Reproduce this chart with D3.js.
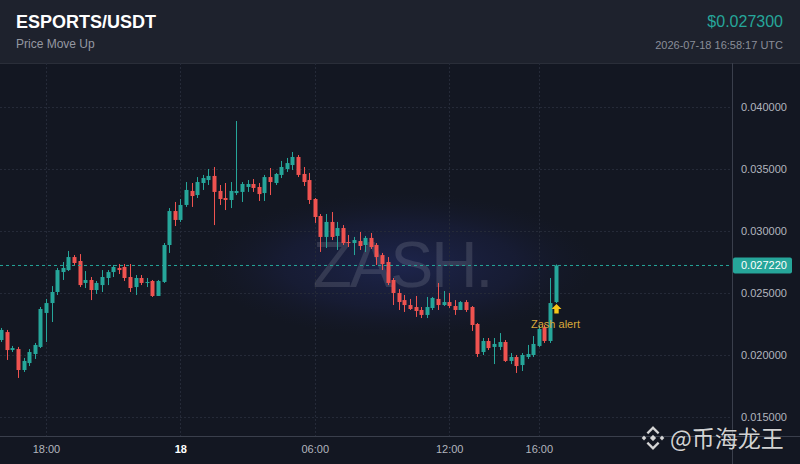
<!DOCTYPE html>
<html><head><meta charset="utf-8">
<script src="https://cdn.jsdelivr.net/npm/d3@7/dist/d3.min.js"></script>
<style>
html,body{margin:0;padding:0;background:#131722;}
svg{display:block;font-family:"Liberation Sans",Arial,sans-serif;}
</style></head>
<body>
<svg id="chart" width="800" height="464"></svg>
<script>
// ---- data (15-minute candles, 2026-07-17 16:00 UTC .. 2026-07-18 16:45 UTC) ----
const startTime = "2026-07-17T16:00:00Z";
const intervalMinutes = 15;
const open = [0.02121,0.02185,0.02040,0.02048,0.01879,0.01935,0.02008,0.02065,0.02339,0.02419,
0.02508,0.02669,0.02685,0.02790,0.02758,0.02581,0.02605,0.02524,0.02564,0.02621,
0.02669,0.02702,0.02710,0.02629,0.02548,0.02621,0.02581,0.02597,0.02476,0.02589,
0.02887,0.03161,0.03089,0.03210,0.03323,0.03290,0.03387,0.03411,0.03444,0.03323,
0.03266,0.03250,0.03306,0.03315,0.03355,0.03379,0.03355,0.03306,0.03435,0.03387,
0.03452,0.03500,0.03532,0.03597,0.03460,0.03411,0.03258,0.03121,0.02952,0.03073,
0.02960,0.03024,0.02911,0.02903,0.02919,0.02887,0.02944,0.02887,0.02806,0.02750,
0.02605,0.02500,0.02443,0.02403,0.02387,0.02363,0.02323,0.02379,0.02452,0.02403,
0.02427,0.02395,0.02363,0.02427,0.02387,0.02250,0.02024,0.02113,0.02065,0.02065,
0.02105,0.01952,0.01984,0.01919,0.01984,0.02000,0.02073,0.02218,0.02113,0.02427];
const high = [0.02218,0.02202,0.02073,0.02065,0.01976,0.02048,0.02097,0.02387,0.02452,0.02556,
0.02702,0.02750,0.02839,0.02806,0.02814,0.02677,0.02629,0.02597,0.02685,0.02685,
0.02726,0.02734,0.02734,0.02734,0.02645,0.02645,0.02621,0.02605,0.02605,0.02903,
0.03185,0.03234,0.03258,0.03395,0.03387,0.03435,0.03452,0.03500,0.03516,0.03371,
0.03387,0.03395,0.03887,0.03395,0.03411,0.03419,0.03387,0.03452,0.03508,0.03468,
0.03565,0.03589,0.03637,0.03613,0.03516,0.03468,0.03266,0.03137,0.03137,0.03153,
0.03073,0.03048,0.02968,0.02952,0.02992,0.02960,0.02984,0.02903,0.02823,0.02790,
0.02621,0.02532,0.02484,0.02452,0.02476,0.02387,0.02468,0.02468,0.02581,0.02516,
0.02500,0.02443,0.02435,0.02443,0.02395,0.02258,0.02137,0.02137,0.02137,0.02177,
0.02121,0.02016,0.02000,0.02016,0.02081,0.02153,0.02234,0.02242,0.02621,0.02730];
const low = [0.02105,0.01960,0.02024,0.01815,0.01863,0.01911,0.01968,0.02056,0.02105,0.02266,
0.02484,0.02605,0.02677,0.02726,0.02548,0.02540,0.02443,0.02492,0.02508,0.02564,
0.02629,0.02653,0.02597,0.02508,0.02484,0.02564,0.02548,0.02468,0.02476,0.02581,
0.02823,0.03040,0.03073,0.03194,0.03194,0.03266,0.03331,0.03371,0.03048,0.03210,
0.03169,0.03185,0.03290,0.03234,0.03315,0.03315,0.03242,0.03242,0.03290,0.03371,
0.03427,0.03476,0.03492,0.03435,0.03363,0.03218,0.03065,0.02831,0.02863,0.02927,
0.02847,0.02887,0.02871,0.02806,0.02847,0.02831,0.02855,0.02726,0.02685,0.02564,
0.02403,0.02363,0.02347,0.02363,0.02307,0.02298,0.02298,0.02363,0.02363,0.02395,
0.02379,0.02323,0.02363,0.02347,0.02194,0.01984,0.02000,0.02040,0.01927,0.02040,
0.01944,0.01927,0.01855,0.01871,0.01968,0.01984,0.02065,0.02097,0.02097,0.02419];
const close = [0.02202,0.02040,0.02056,0.01879,0.01952,0.02024,0.02081,0.02371,0.02419,0.02508,
0.02685,0.02702,0.02790,0.02742,0.02564,0.02605,0.02524,0.02581,0.02629,0.02669,
0.02710,0.02685,0.02621,0.02540,0.02621,0.02581,0.02589,0.02476,0.02597,0.02887,
0.03161,0.03089,0.03210,0.03331,0.03282,0.03395,0.03427,0.03444,0.03315,0.03258,
0.03250,0.03323,0.03323,0.03379,0.03379,0.03347,0.03298,0.03435,0.03395,0.03460,
0.03516,0.03548,0.03597,0.03452,0.03395,0.03250,0.03113,0.02952,0.03073,0.02952,
0.03024,0.02903,0.02903,0.02927,0.02879,0.02944,0.02871,0.02790,0.02734,0.02581,
0.02500,0.02427,0.02403,0.02371,0.02355,0.02323,0.02387,0.02460,0.02403,0.02427,
0.02395,0.02363,0.02427,0.02363,0.02242,0.02008,0.02113,0.02056,0.02089,0.02105,
0.01952,0.01984,0.01911,0.02000,0.02008,0.02089,0.02210,0.02113,0.02419,0.02722];

const priceTicks = [0.015, 0.020, 0.025, 0.030, 0.035, 0.040];
const timeTicks = ["2026-07-17T18:00:00Z","2026-07-18T00:00:00Z","2026-07-18T06:00:00Z","2026-07-18T12:00:00Z","2026-07-18T16:00:00Z"];
const timeTickLabels = ["18:00","18","06:00","12:00","16:00"];
const timeDomain = ["2026-07-17T15:57:00Z","2026-07-19T00:37:30Z"];
const yDomain = [0.015, 0.040];

const symbol = "ESPORTS/USDT";
const subtitle = "Price Move Up";
const headerPrice = "$0.027300";
const timestamp = "2026-07-18 16:58:17 UTC";
const lastPrice = 0.02722;
const alertLabel = "Zash alert";
const alertIndex = 99;
const watermark = "ZASH.";
const cornerMark = "@币海龙王";

// ---- layout ----
const W = 800, H = 464;
const headerH = 63;
const plotL = 0, plotR = 732, plotT = 63, plotB = 436;
const UP = "#26a69a", DOWN = "#ef5350";

const svg = d3.select("#chart");
const defs = svg.append("defs");

const candles = open.map((o, i) => ({
  t: d3.utcMinute.offset(new Date(startTime), i * intervalMinutes),
  o, h: high[i], l: low[i], c: close[i]
}));

const x = d3.scaleUtc().domain(timeDomain.map(d => new Date(d))).range([plotL, plotR]);
const y = d3.scaleLinear().domain(yDomain).range([417, 107]);

// backgrounds
svg.append("rect").attr("width", W).attr("height", H).attr("fill", "#131722");
svg.append("rect").attr("width", W).attr("height", headerH).attr("fill", "#1e222d");
svg.append("line").attr("x1", 0).attr("x2", W).attr("y1", headerH + 0.5).attr("y2", headerH + 0.5)
  .attr("stroke", "#2a2e39").attr("stroke-width", 1);

// glow behind watermark
const rg = defs.append("radialGradient").attr("id", "glow");
rg.append("stop").attr("offset", "0%").attr("stop-color", "#2a3580").attr("stop-opacity", 0.45);
rg.append("stop").attr("offset", "60%").attr("stop-color", "#222a66").attr("stop-opacity", 0.25);
rg.append("stop").attr("offset", "100%").attr("stop-color", "#1a1f44").attr("stop-opacity", 0);
svg.append("ellipse").attr("cx", 400).attr("cy", 265).attr("rx", 195).attr("ry", 72).attr("fill", "url(#glow)");

// grid
const grid = svg.append("g");
grid.selectAll(".hg").data(priceTicks).join("line")
  .attr("x1", plotL).attr("x2", plotR)
  .attr("y1", d => Math.round(y(d)) + 0.5).attr("y2", d => Math.round(y(d)) + 0.5)
  .attr("stroke", "#252a38").attr("stroke-dasharray", "2,2");
grid.selectAll(".vg").data(timeTicks).join("line")
  .attr("x1", d => Math.round(x(new Date(d))) + 0.5).attr("x2", d => Math.round(x(new Date(d))) + 0.5)
  .attr("y1", plotT).attr("y2", plotB)
  .attr("stroke", "#252a38").attr("stroke-dasharray", "2,2");

// watermark
svg.append("text").attr("x", 402).attr("y", 287).attr("text-anchor", "middle")
  .attr("font-family", "'Liberation Sans', Arial, sans-serif").attr("font-size", 64)
  .attr("fill", "#ffffff").attr("fill-opacity", 0.12).attr("letter-spacing", -2)
  .text(watermark);

// candles
const bw = 4;
const cg = svg.append("g");
cg.selectAll("line.wick").data(candles).join("line")
  .attr("x1", d => Math.round(x(d.t)) + 0.5).attr("x2", d => Math.round(x(d.t)) + 0.5)
  .attr("y1", d => y(d.h)).attr("y2", d => y(d.l))
  .attr("stroke", d => d.c >= d.o ? UP : DOWN).attr("stroke-width", 1);
cg.selectAll("rect.body").data(candles).join("rect")
  .attr("x", d => Math.round(x(d.t)) + 0.5 - bw / 2)
  .attr("y", d => y(Math.max(d.o, d.c)))
  .attr("width", bw)
  .attr("height", d => Math.max(1, Math.abs(y(d.o) - y(d.c))))
  .attr("fill", d => d.c >= d.o ? UP : DOWN);

// last price line
svg.append("line").attr("x1", plotL).attr("x2", plotR)
  .attr("y1", y(lastPrice)).attr("y2", y(lastPrice))
  .attr("stroke", UP).attr("stroke-width", 1).attr("stroke-dasharray", "3,3");

// alert marker
const ac = candles[alertIndex];
const ax = Math.round(x(ac.t)) + 0.5;
const ay = y(ac.o) + 2;
svg.append("path")
  .attr("d", `M${ax},${ay} l5,5 h-2.8 v4.5 h-4.4 v-4.5 h-2.8 z`)
  .attr("fill", "#f5c518");
svg.append("text").attr("x", ax - 1).attr("y", ay + 24).attr("text-anchor", "middle")
  .attr("font-size", 11).attr("fill", "#d9a83a").text(alertLabel);

// axes lines
svg.append("line").attr("x1", plotR + 0.5).attr("x2", plotR + 0.5).attr("y1", plotT).attr("y2", H)
  .attr("stroke", "#3a3f4c");
svg.append("line").attr("x1", 0).attr("x2", W).attr("y1", plotB + 0.5).attr("y2", plotB + 0.5)
  .attr("stroke", "#3a3f4c");

// y axis
const yAxis = d3.axisRight(y).tickValues(priceTicks).tickFormat(d3.format(".6f")).tickSize(0).tickPadding(9);
const gy = svg.append("g").attr("transform", `translate(${plotR},0)`).call(yAxis);
gy.select(".domain").remove();
gy.selectAll("text").attr("fill", "#b2b5be").attr("font-size", 11)
  .attr("font-family", "'Liberation Sans', Arial, sans-serif");

// x axis
const xAxis = d3.axisBottom(x).tickValues(timeTicks.map(d => new Date(d)))
  .tickFormat((d, i) => timeTickLabels[i]).tickSize(0).tickPadding(9);
const gx = svg.append("g").attr("transform", `translate(0,${plotB})`).call(xAxis);
gx.select(".domain").remove();
gx.selectAll("text").attr("fill", "#b2b5be").attr("font-size", 11)
  .attr("font-family", "'Liberation Sans', Arial, sans-serif")
  .attr("font-weight", (d, i) => timeTickLabels[i].includes(":") ? null : "bold")
  .style("fill", (d, i) => timeTickLabels[i].includes(":") ? "#b2b5be" : "#ffffff");

// last price label on axis
const ly = y(lastPrice);
svg.append("rect").attr("x", plotR + 1).attr("y", ly - 8).attr("width", 59).attr("height", 16)
  .attr("rx", 2).attr("fill", UP);
svg.append("text").attr("x", plotR + 9).attr("y", ly + 4).attr("font-size", 11)
  .attr("fill", "#ffffff").text(d3.format(".6f")(lastPrice));

// header text
svg.append("text").attr("x", 16).attr("y", 28).attr("font-size", 18).attr("font-weight", "bold")
  .attr("fill", "#ffffff").text(symbol);
svg.append("text").attr("x", 16).attr("y", 48).attr("font-size", 12)
  .attr("fill", "#9598a1").text(subtitle);
svg.append("text").attr("x", 783).attr("y", 27).attr("text-anchor", "end").attr("font-size", 16)
  .attr("fill", UP).text(headerPrice);
svg.append("text").attr("x", 783).attr("y", 49).attr("text-anchor", "end").attr("font-size", 11)
  .attr("fill", "#8a8e99").text(timestamp);

// corner watermark with logo
const logo = svg.append("g").attr("transform", "translate(653,438)")
  .attr("fill", "#e6e6e6").attr("fill-opacity", 0.92)
  .attr("stroke", "#000").attr("stroke-opacity", 0.2).attr("stroke-width", 0.6);
const dia = (cx, cy, r) => `M${cx},${cy - r} L${cx + r},${cy} L${cx},${cy + r} L${cx - r},${cy} Z`;
logo.append("path").attr("d", dia(0, 0, 3.2) + dia(-9, 0, 2.4) + dia(9, 0, 2.4));
logo.append("path").attr("d", "M0,-12 L6.5,-5.5 L4.8,-3.8 L0,-8.6 L-4.8,-3.8 L-6.5,-5.5 Z");
logo.append("path").attr("d", "M0,12 L6.5,5.5 L4.8,3.8 L0,8.6 L-4.8,3.8 L-6.5,5.5 Z");
svg.append("text").attr("x", 670).attr("y", 447).attr("font-size", 23)
  .attr("font-family", "'Noto Sans CJK SC', 'Noto Sans', sans-serif")
  .attr("fill", "#e6e6e6").attr("fill-opacity", 0.92)
  .style("paint-order", "stroke").attr("stroke", "#000").attr("stroke-opacity", 0.25).attr("stroke-width", 1)
  .text(cornerMark);
</script>
</body></html>
